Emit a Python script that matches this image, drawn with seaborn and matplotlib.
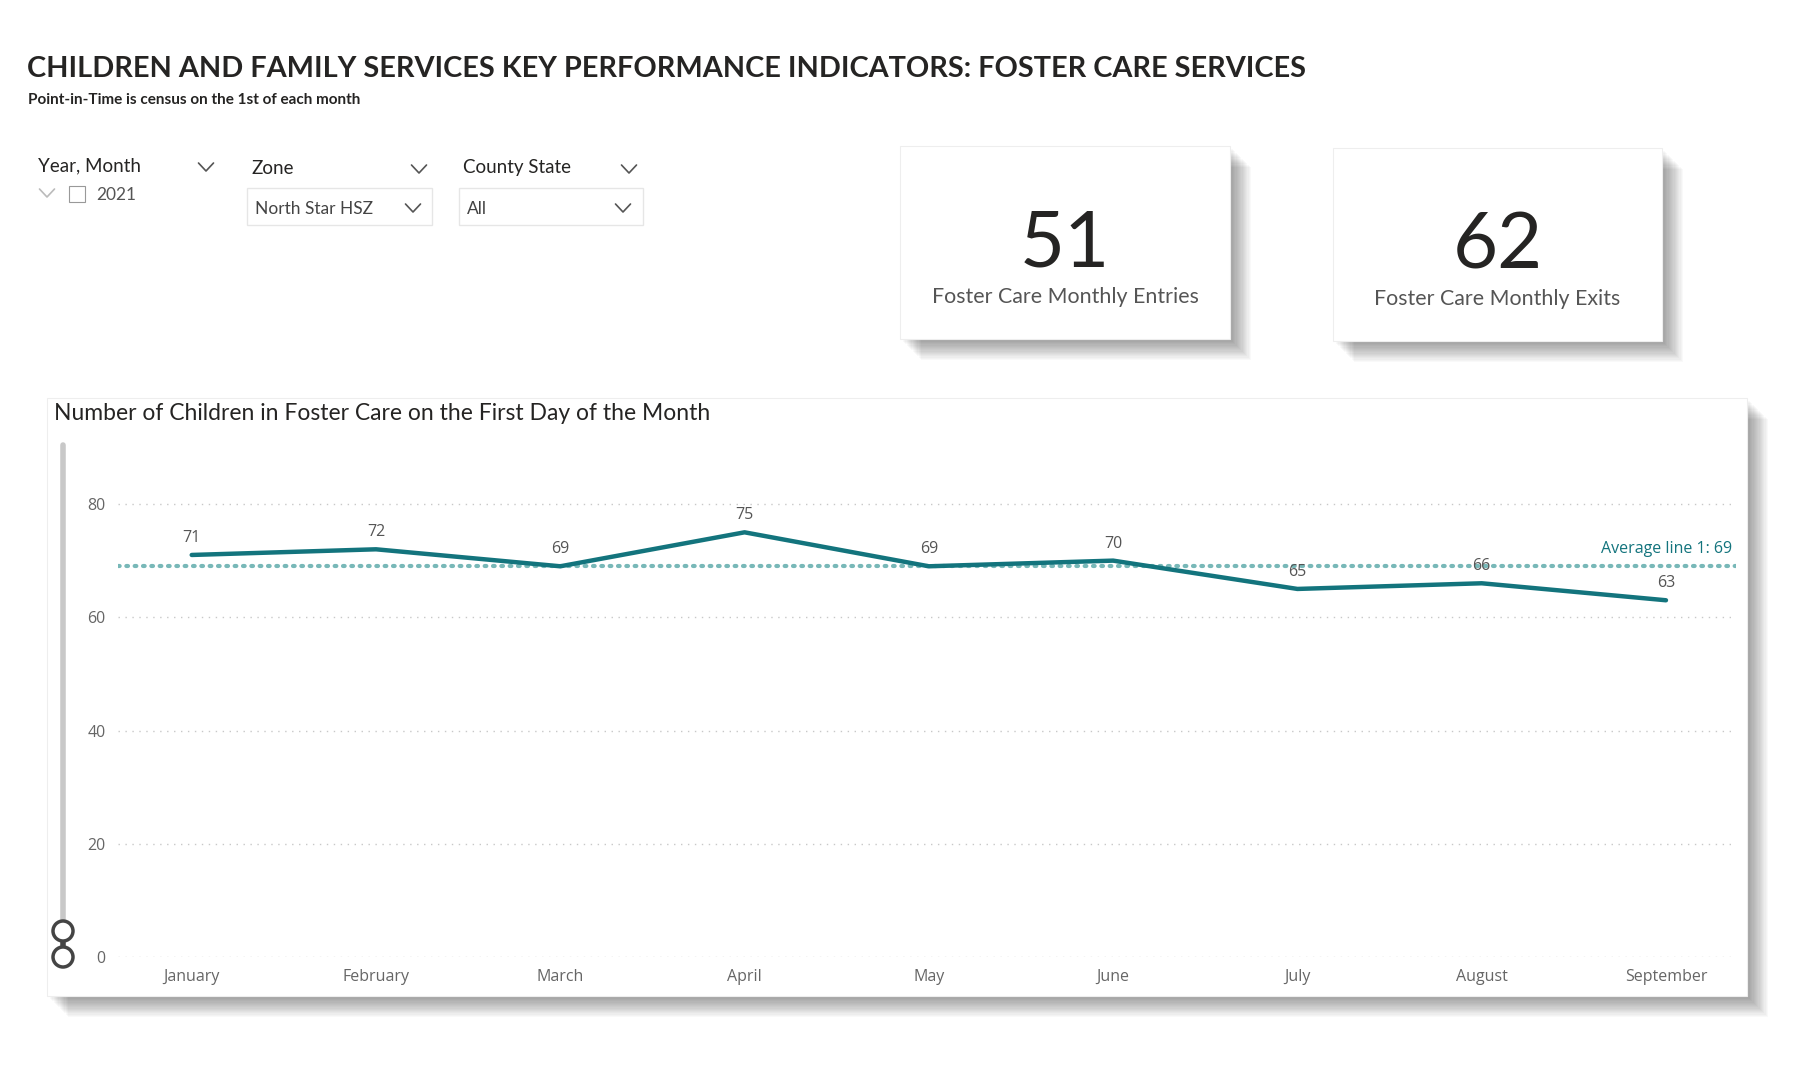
import matplotlib
matplotlib.use("Agg")
import matplotlib.pyplot as plt
from matplotlib.patches import Rectangle, Ellipse
from matplotlib.lines import Line2D
import seaborn as sns
import pandas as pd

# data
months = ["January", "February", "March", "April", "May", "June",
          "July", "August", "September"]
children = [71, 72, 69, 75, 69, 70, 65, 66, 63]
avg_value = 69
y_ticks = [0, 20, 40, 60, 80]
kpi_values = [51, 62]
kpi_labels = ["Foster Care Monthly Entries", "Foster Care Monthly Exits"]
slicer_titles = ["Year, Month", "Zone", "County State"]
slicer_values = ["North Star HSZ", "All"]

W, H = 1800, 1067
TEAL = "#13747d"
AVG = "#78b8b8"
BODY = ["Open Sans", "DejaVu Sans"]

sns.set_theme(style="white")
plt.rcParams["font.family"] = ["Lato", "DejaVu Sans"]

fig = plt.figure(figsize=(W / 100, H / 100), dpi=100)
fig.patch.set_facecolor("white")


def fx(x):
    return x / W


def fy(y):
    return 1 - y / H


def ftext(x, y, s, **kw):
    fig.text(fx(x), fy(y), s, **kw)


def chevron(x, y, w=15, h=8, color="#555555", lw=1.2):
    fig.add_artist(Line2D([fx(x - w / 2), fx(x), fx(x + w / 2)],
                          [fy(y - h / 2), fy(y + h / 2), fy(y - h / 2)],
                          color=color, lw=lw))


def card(x0, y0, x1, y1):
    # soft drop shadow towards the lower right
    for i in range(16):
        off = 3 + i * 1.2
        fig.add_artist(Rectangle((fx(x0 + off), fy(y1 + off)),
                                 (x1 - x0) / W, (y1 - y0) / H,
                                 transform=fig.transFigure,
                                 color="#000000", alpha=0.022, lw=0, zorder=0))
    fig.add_artist(Rectangle((fx(x0), fy(y1)), (x1 - x0) / W, (y1 - y0) / H,
                             transform=fig.transFigure, facecolor="white",
                             edgecolor="#eeeeee", lw=0.8, zorder=1))


# header
ftext(27, 69, "CHILDREN AND FAMILY SERVICES KEY PERFORMANCE INDICATORS: FOSTER CARE SERVICES",
      fontsize=20.8, fontweight="bold", color="#252423", va="center")
ftext(28, 100, "Point-in-Time is census on the 1st of each month",
      fontsize=11, fontweight="bold", color="#252423", va="center")

# slicers
ftext(38, 166, slicer_titles[0], fontsize=13.5, color="#252423", va="center")
chevron(206, 167)
chevron(47, 193, color="#bbbbbb")
fig.add_artist(Rectangle((fx(69), fy(202)), 16 / W, 16 / H, transform=fig.transFigure,
                         facecolor="white", edgecolor="#999999", lw=0.8))
ftext(96, 195, "2021", fontsize=12.5, color="#555555", va="center")

ftext(251, 168, slicer_titles[1], fontsize=13.5, color="#252423", va="center")
chevron(419, 169)
ftext(463, 168, slicer_titles[2], fontsize=13.5, color="#252423", va="center")
chevron(629, 169)
for (bx0, bx1), val, cx in zip([(247, 432), (459, 643)], slicer_values, (413, 623)):
    fig.add_artist(Rectangle((fx(bx0), fy(225)), (bx1 - bx0) / W, 37 / H,
                             transform=fig.transFigure, facecolor="white",
                             edgecolor="#e6e6e6", lw=1.0))
    ftext(bx0 + 8, 209, val, fontsize=12.5, color="#444444", va="center")
    chevron(cx, 208)

# KPI cards
kpi_boxes = [(900, 146, 1230, 339), (1333, 148, 1662, 341)]
for (x0, y0, x1, y1), v, lab in zip(kpi_boxes, kpi_values, kpi_labels):
    card(x0, y0, x1, y1)
    cx = (x0 + x1) / 2
    ftext(cx, y0 + 99, str(v), fontsize=56, color="#252423", ha="center", va="center",
          zorder=3)
    ftext(cx, y0 + 151, lab, fontsize=15.4, color="#555555", ha="center", va="center",
          zorder=3)

# chart card
card(47, 398, 1747, 996)
ftext(54, 414, "Number of Children in Foster Care on the First Day of the Month",
      fontsize=16.5, color="#252423", va="center", zorder=3)

# range slider on the left
fig.add_artist(Line2D([fx(63), fx(63)], [fy(445), fy(925)], color="#c8c8c8", lw=4,
                      solid_capstyle="round", zorder=3))
fig.add_artist(Line2D([fx(63), fx(63)], [fy(931), fy(957)], color="#444444", lw=4,
                      zorder=3))
for cy in (931, 957):
    fig.add_artist(Ellipse((fx(63), fy(cy)), 20 / W, 20 / H, transform=fig.transFigure,
                           facecolor="white", edgecolor="#444444", lw=2.5, zorder=4))

# main axes: y=0 at 957px, y=80 at 504px
ymax = 86
y0px, y80px = 957, 504
top_px = y0px - (y0px - y80px) * ymax / 80
ax = fig.add_axes([fx(118), fy(y0px), (1736 - 118) / W, (y0px - top_px) / H])
ax.set_facecolor("none")
ax.set_zorder(5)

df = pd.DataFrame({"month": months, "children": children})
df["pos"] = range(len(months))
sns.lineplot(data=df, x="pos", y="children", color=TEAL, lw=3.2, ax=ax,
             solid_joinstyle="round", solid_capstyle="round")
ax.axhline(avg_value, color=AVG, lw=3, ls=(0, (0.4, 1.6)), dash_capstyle="round",
           zorder=1)
ax.text(8.36, avg_value + 1.7, f"Average line 1: {avg_value}",
        color=TEAL, fontsize=11.5, ha="right", va="bottom", fontfamily=BODY)
for i, v in enumerate(children):
    ax.text(i, v + 1.6, str(v), ha="center", va="bottom", fontsize=11.5, color="#555555",
            fontfamily=BODY)

ax.set_xlim(-0.4, 8.38)
ax.set_ylim(0, ymax)
ax.set_yticks(y_ticks)
ax.set_xticks(range(len(months)))
ax.set_xticklabels(months)
for t in y_ticks:
    ax.axhline(t, color="#c8c8c8", lw=1, ls=(0, (1, 4)), zorder=0)
ax.tick_params(axis="both", length=0, labelsize=11.5, labelcolor="#666666")
ax.tick_params(axis="y", pad=9)
ax.tick_params(axis="x", pad=8.5)
for lab in ax.get_xticklabels() + ax.get_yticklabels():
    lab.set_fontfamily(BODY)
ax.set_xlabel("")
ax.set_ylabel("")
for s in ax.spines.values():
    s.set_visible(False)

fig.savefig("out.png", dpi=100, facecolor="white")
